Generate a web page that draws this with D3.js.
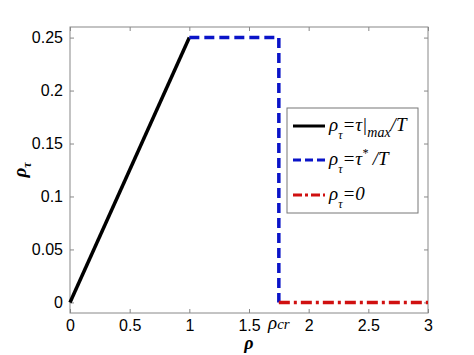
<!DOCTYPE html>
<html><head><meta charset="utf-8">
<script src="https://cdn.jsdelivr.net/npm/d3@7"></script>
<style>body{margin:0;background:#fff}svg{display:block}</style>
</head><body>
<svg id="c" width="474" height="355"></svg>
<script>
const xTicks = [0, 0.5, 1, 1.5, 2, 2.5, 3];
const yTicks = [0, 0.05, 0.1, 0.15, 0.2, 0.25];
const rhoCr = 1.75;
const seriesMax = [[0, 0], [1, 0.25]];
const seriesStar = [[1, 0.25], [1.75, 0.25], [1.75, 0]];
const seriesZero = [[1.75, 0], [3, 0]];

const svg = d3.select("#c");
const L = 70, R = 428, T = 27, B = 313;
const x = d3.scaleLinear().domain([0, 3]).range([L, R]);
const y = d3.scaleLinear().domain([-0.01, 0.26]).range([B, T]);
const axisColor = "#888";

svg.append("rect").attr("x", L).attr("y", T).attr("width", R - L).attr("height", B - T)
  .attr("fill", "none").attr("stroke", axisColor).attr("stroke-width", 1);

const fmt = d => d3.format("")(d);
const xa = svg.append("g").attr("transform", `translate(0,${B})`)
  .call(d3.axisBottom(x).tickValues(xTicks).tickSizeInner(-4).tickSizeOuter(0).tickPadding(7).tickFormat(fmt));
const xt = svg.append("g").attr("transform", `translate(0,${T})`)
  .call(d3.axisTop(x).tickValues(xTicks).tickSizeInner(-4).tickSizeOuter(0).tickFormat(""));
const ya = svg.append("g").attr("transform", `translate(${L},0)`)
  .call(d3.axisLeft(y).tickValues(yTicks).tickSizeInner(-4).tickSizeOuter(0).tickPadding(7).tickFormat(fmt));
const yr = svg.append("g").attr("transform", `translate(${R},0)`)
  .call(d3.axisRight(y).tickValues(yTicks).tickSizeInner(-4).tickSizeOuter(0).tickFormat(""));
[xa, xt, ya, yr].forEach(g => {
  g.select(".domain").remove();
  g.selectAll(".tick line").attr("stroke", axisColor);
  g.selectAll(".tick text").attr("fill", "#000").style("font-family", "Arial, 'Liberation Sans', sans-serif").style("font-size", "16px");
});

// rho_cr label
const cr = svg.append("text").attr("x", x(rhoCr)).attr("y", B + 16).attr("text-anchor", "middle")
  .style("font-family", "'Liberation Serif', 'Times New Roman', serif").style("font-style", "italic").style("font-size", "19px");
cr.append("tspan").text("ρ");
cr.append("tspan").attr("font-size", "15px").attr("dy", 0).text("cr");

// axis labels
svg.append("text").attr("x", x(1.5)).attr("y", 349).attr("text-anchor", "middle")
  .style("font-family", "'Liberation Serif', serif").style("font-style", "italic").style("font-weight", "bold").style("font-size", "18px").text("ρ");
const yl = svg.append("text").attr("transform", `translate(26,${y(0.125)}) rotate(-90)`).attr("text-anchor", "middle")
  .style("font-family", "'Liberation Serif', serif").style("font-style", "italic").style("font-weight", "bold").style("font-size", "19px");
yl.append("tspan").text("ρ");
yl.append("tspan").attr("font-size", "12px").attr("dy", 5).text("τ");

const line = d3.line().x(d => x(d[0])).y(d => y(d[1]));
svg.append("path").attr("d", line(seriesMax)).attr("fill", "none").attr("stroke", "#000").attr("stroke-width", 3.5);
svg.append("path").attr("d", line(seriesStar)).attr("fill", "none").attr("stroke", "#0a14c8").attr("stroke-width", 3.5).attr("stroke-dasharray", "10,5");
svg.append("path").attr("d", line(seriesZero)).attr("fill", "none").attr("stroke", "#d01010").attr("stroke-width", 3.5).attr("stroke-dasharray", "11,4,3,4");

// legend
const lg = svg.append("g");
lg.append("rect").attr("x", 287).attr("y", 108).attr("width", 131).attr("height", 105)
  .attr("fill", "#fff").attr("stroke", "#777").attr("stroke-width", 1);
const items = [
  {c: "#000", dash: null, y: 126, parts: [["=τ|", 0, 19], ["max", 6, 14], ["/T", -6, 19]]},
  {c: "#0a14c8", dash: "8,4", y: 160, parts: [["=τ", 0, 19], ["*", -8, 12], [" /T", 8, 19]]},
  {c: "#d01010", dash: "9,3,3,3", y: 195, parts: [["=0", 0, 19]]}
];
items.forEach(it => {
  lg.append("line").attr("x1", 293).attr("x2", 325).attr("y1", it.y).attr("y2", it.y)
    .attr("stroke", it.c).attr("stroke-width", 3).attr("stroke-dasharray", it.dash);
  const t = lg.append("text").attr("x", 329).attr("y", it.y + 5)
    .style("font-family", "'Liberation Serif', serif").style("font-style", "italic").style("font-size", "19px");
  t.append("tspan").text("ρ");
  t.append("tspan").attr("font-size", "12px").attr("dy", 8).text("τ");
  it.parts.forEach((p, i) => {
    const s = t.append("tspan").text(p[0]).attr("font-size", p[2] + "px");
    s.attr("dy", i === 0 ? -8 : p[1]);
  });
});
</script>
</body></html>
